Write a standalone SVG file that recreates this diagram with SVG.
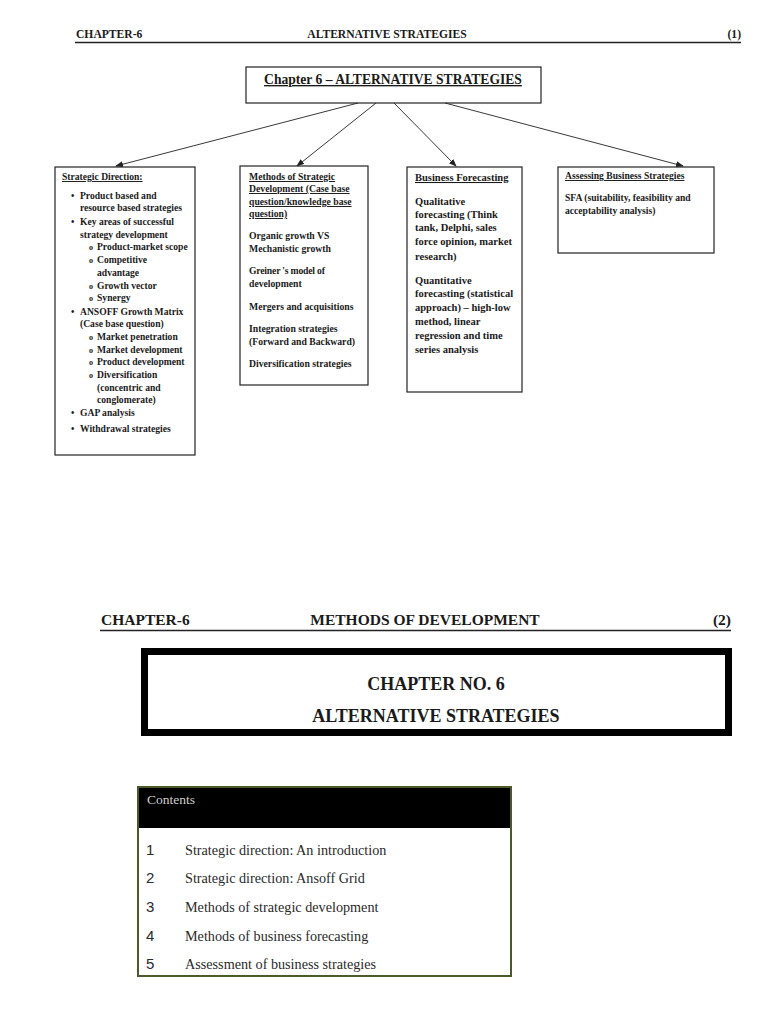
<svg xmlns="http://www.w3.org/2000/svg" width="768" height="1024" viewBox="0 0 768 1024">
<style>
text{font-family:"Liberation Serif","Times New Roman",serif;fill:#1a1a1a}
.b{font-weight:bold}
.u{text-decoration:underline}
.box{fill:#fff;stroke:#222;stroke-width:1.2}
.conn{stroke:#222;stroke-width:0.9;fill:none;marker-end:url(#ah)}
.s1{font-size:9.6px;font-weight:bold}
.s2{font-size:9.7px;font-weight:bold}
.s3{font-size:10.5px;font-weight:bold}
.s4{font-size:9.6px;font-weight:bold}
.sb{font-size:8px}
.ct{font-size:14.2px;fill:#2a2a2a}
.num{font-family:"Liberation Sans",Arial,sans-serif;font-size:15px;fill:#2a2a2a}
</style>
<defs>
<marker id="ah" markerWidth="8" markerHeight="6" refX="7" refY="3" orient="auto" markerUnits="userSpaceOnUse">
<path d="M0,0 L8,3 L0,6 z" fill="#222"/>
</marker>
</defs>
<rect width="768" height="1024" fill="#fff"/>

<g id="page1-header">
<text x="76" y="38" class="b" font-size="11.6">CHAPTER-6</text>
<text x="387" y="38" class="b" font-size="11.6" text-anchor="middle">ALTERNATIVE STRATEGIES</text>
<text x="741" y="38" class="b" font-size="11.6" text-anchor="end">(1)</text>
<line x1="75" y1="42.5" x2="741" y2="42.5" stroke="#222" stroke-width="1.4"/>
</g>

<g id="title">
<rect class="box" x="246" y="67" width="295" height="36"/>
<text x="393" y="84" class="b u" font-size="13.6" text-anchor="middle">Chapter 6 – ALTERNATIVE STRATEGIES</text>
</g>

<g id="connectors">
<line class="conn" x1="358" y1="103" x2="116" y2="166"/>
<line class="conn" x1="376" y1="103" x2="297" y2="166"/>
<line class="conn" x1="394" y1="103" x2="456" y2="166"/>
<line class="conn" x1="445" y1="103" x2="683" y2="166"/>
</g>

<g id="strategic-direction">
<rect class="box" x="55" y="167" width="140" height="288"/>
<text x="62" y="180" class="s1 u">Strategic Direction:</text>
<g class="s1">
<text x="71" y="199">•</text><text x="80" y="199">Product based and</text>
<text x="80" y="211">resource based strategies</text>
<text x="71" y="225">•</text><text x="80" y="225">Key areas of successful</text>
<text x="80" y="238">strategy development</text>
<text x="89" y="250" class="sb">o</text><text x="97" y="250">Product-market scope</text>
<text x="89" y="263" class="sb">o</text><text x="97" y="263">Competitive</text>
<text x="97" y="276">advantage</text>
<text x="89" y="289" class="sb">o</text><text x="97" y="289">Growth vector</text>
<text x="89" y="301" class="sb">o</text><text x="97" y="301">Synergy</text>
<text x="71" y="315">•</text><text x="80" y="315">ANSOFF Growth Matrix</text>
<text x="80" y="327">(Case base question)</text>
<text x="89" y="340" class="sb">o</text><text x="97" y="340">Market penetration</text>
<text x="89" y="353" class="sb">o</text><text x="97" y="353">Market development</text>
<text x="89" y="365" class="sb">o</text><text x="97" y="365">Product development</text>
<text x="89" y="378" class="sb">o</text><text x="97" y="378">Diversification</text>
<text x="97" y="391">(concentric and</text>
<text x="97" y="403">conglomerate)</text>
<text x="71" y="416">•</text><text x="80" y="416">GAP analysis</text>
<text x="71" y="432">•</text><text x="80" y="432">Withdrawal strategies</text>
</g>
</g>

<g id="methods">
<rect class="box" x="240" y="166" width="128" height="219"/>
<g class="s2">
<text x="249" y="180" class="u">Methods of Strategic</text>
<text x="249" y="192" class="u">Development (Case base</text>
<text x="249" y="205" class="u">question/knowledge base</text>
<text x="249" y="217" class="u">question)</text>
<text x="249" y="239">Organic growth VS</text>
<text x="249" y="252">Mechanistic growth</text>
<text x="249" y="274" font-weight="900" letter-spacing="-0.2">Greiner 's model of</text>
<text x="249" y="287">development</text>
<text x="249" y="310">Mergers and acquisitions</text>
<text x="249" y="332">Integration strategies</text>
<text x="249" y="345">(Forward and Backward)</text>
<text x="249" y="367">Diversification strategies</text>
</g>
</g>

<g id="business-forecasting">
<rect class="box" x="407" y="167" width="115" height="225"/>
<g class="s3">
<text x="415" y="181" class="u">Business Forecasting</text>
<text x="415" y="205">Qualitative</text>
<text x="415" y="218">forecasting (Think</text>
<text x="415" y="231">tank, Delphi, sales</text>
<text x="415" y="245">force opinion, market</text>
<text x="415" y="260">research)</text>
<text x="415" y="284">Quantitative</text>
<text x="415" y="297">forecasting (statistical</text>
<text x="415" y="311">approach) – high-low</text>
<text x="415" y="325">method, linear</text>
<text x="415" y="339">regression and time</text>
<text x="415" y="353">series analysis</text>
</g>
</g>

<g id="assessing">
<rect class="box" x="558" y="167" width="156" height="86"/>
<g class="s4">
<text x="565" y="179" class="u">Assessing Business Strategies</text>
<text x="565" y="201">SFA (suitability, feasibility and</text>
<text x="565" y="214">acceptability analysis)</text>
</g>
</g>

<g id="page2-header">
<text x="101" y="625" class="b" font-size="15.5">CHAPTER-6</text>
<text x="425" y="625" class="b" font-size="15.5" text-anchor="middle">METHODS OF DEVELOPMENT</text>
<text x="731" y="625" class="b" font-size="15.5" text-anchor="end">(2)</text>
<line x1="100" y1="630.5" x2="731" y2="630.5" stroke="#222" stroke-width="1.5"/>
</g>

<g id="chapter-box">
<rect x="144.5" y="651.5" width="584" height="81" fill="#fff" stroke="#000" stroke-width="7"/>
<text x="436" y="690" font-size="18" font-weight="bold" text-anchor="middle">CHAPTER NO. 6</text>
<text x="436" y="722" font-size="18" font-weight="bold" text-anchor="middle">ALTERNATIVE STRATEGIES</text>
</g>

<g id="contents">
<rect x="138" y="787" width="373" height="189" fill="#fff" stroke="#4a5a2a" stroke-width="2"/>
<rect x="139" y="788" width="371" height="40" fill="#000"/>
<text x="147" y="804" font-size="13.5" style="fill:#cfcfcf">Contents</text>
<text x="146" y="855" class="num">1</text><text x="185" y="855" class="ct">Strategic direction: An introduction</text>
<text x="146" y="883" class="num">2</text><text x="185" y="883" class="ct">Strategic direction: Ansoff Grid</text>
<text x="146" y="912" class="num">3</text><text x="185" y="912" class="ct">Methods of strategic development</text>
<text x="146" y="941" class="num">4</text><text x="185" y="941" class="ct">Methods of business forecasting</text>
<text x="146" y="969" class="num">5</text><text x="185" y="969" class="ct">Assessment of business strategies</text>
</g>
</svg>
